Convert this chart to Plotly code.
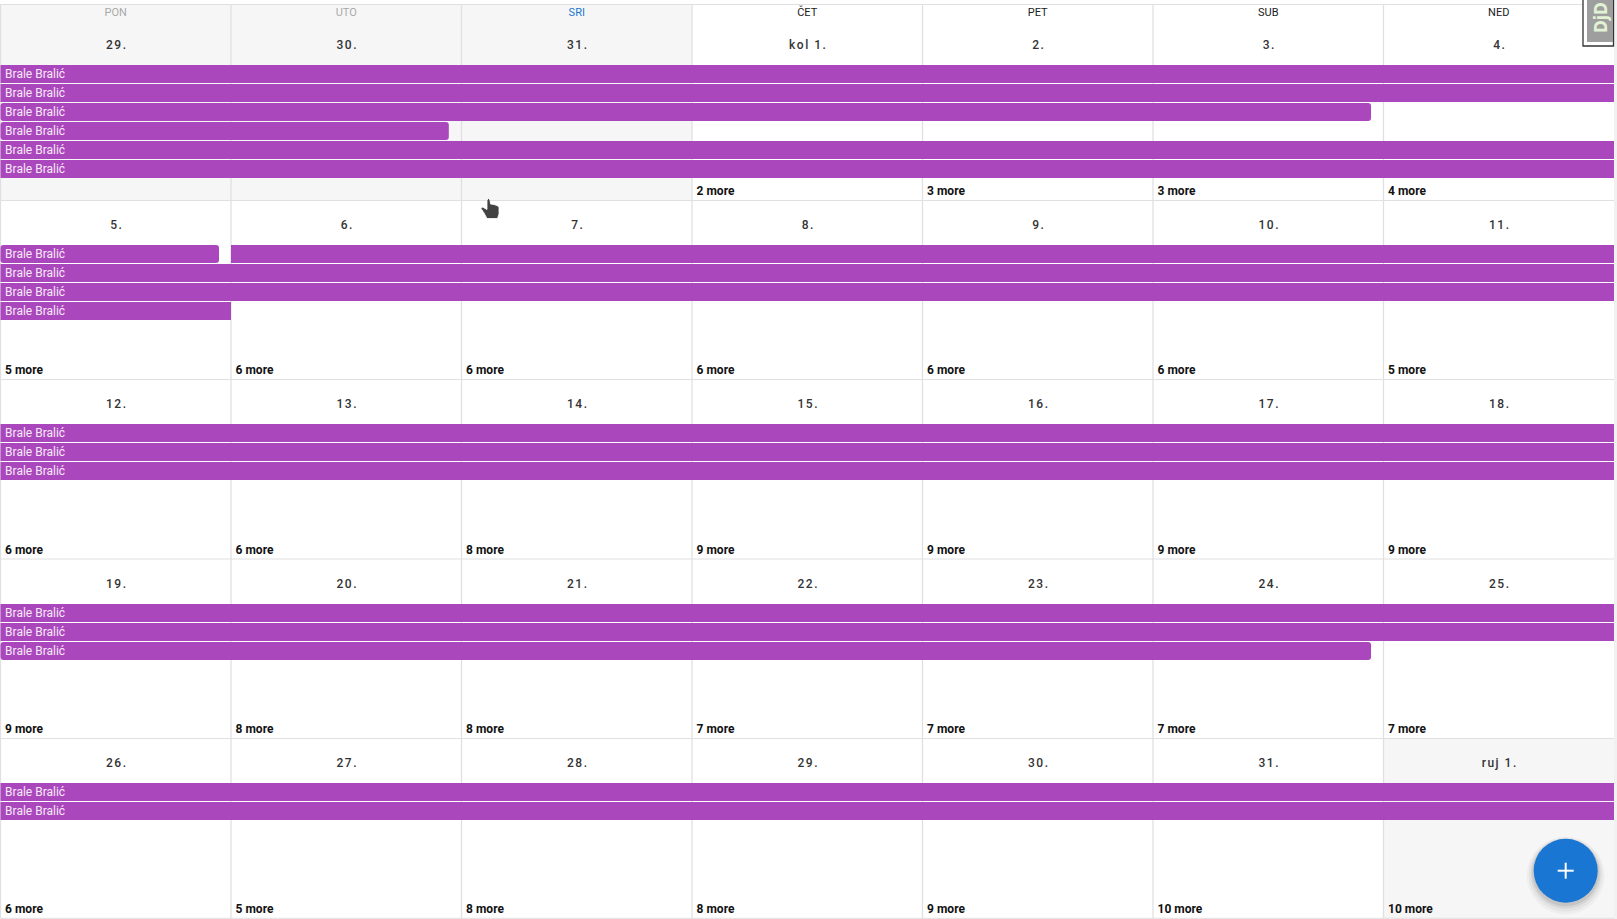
import plotly.graph_objects as go

# ---- calendar content ----
weekdays = ['PON', 'UTO', 'SRI', 'ČET', 'PET', 'SUB', 'NED']
weekday_colors = ['#a9a9a9', '#a9a9a9', '#1976d2', '#212121', '#212121', '#212121', '#212121']

day_labels = [
    ['29.', '30.', '31.', 'kol 1.', '2.', '3.', '4.'],
    ['5.', '6.', '7.', '8.', '9.', '10.', '11.'],
    ['12.', '13.', '14.', '15.', '16.', '17.', '18.'],
    ['19.', '20.', '21.', '22.', '23.', '24.', '25.'],
    ['26.', '27.', '28.', '29.', '30.', '31.', 'ruj 1.'],
]

more_counts = [
    [None, None, None, 2, 3, 3, 4],
    [5, 6, 6, 6, 6, 6, 5],
    [6, 6, 8, 9, 9, 9, 9],
    [9, 8, 8, 7, 7, 7, 7],
    [6, 5, 8, 8, 9, 10, 10],
]

# (week, day) of the greyed out cells
outside_cells = [(0, 0), (0, 1), (0, 2), (4, 6)]

# events: week, lane, first day, last day (in day columns)
event_name = 'Brale Bralić'
open_week = [0, 0, 0, 0, 1, 1, 1, 1, 2, 2, 2, 3, 3, 4, 4]
open_lane = [0, 1, 4, 5, 0, 1, 2, 3, 0, 1, 2, 0, 1, 0, 1]
open_start = [0, 0, 0, 0, 1, 0, 0, 0, 0, 0, 0, 0, 0, 0, 0]
open_end = [7, 7, 7, 7, 7, 7, 7, 1, 7, 7, 7, 7, 7, 7, 7]
open_named = [1, 1, 1, 1, 0, 1, 1, 1, 1, 1, 1, 1, 1, 1, 1]

# these ones finish inside a cell, with a rounded end
closed_week = [0, 0, 1, 3]
closed_lane = [2, 3, 0, 2]
closed_start = [0, 0, 0, 0]
closed_end = [5.946, 1.945, 0.948, 5.946]

# ---- page geometry ----
W, H = 1617, 919
COL = 230.5
LEFT = 0.5
row_lines = [4.5, 200.5, 379.5, 559, 738.5, 918.3]
lanes_top = [65, 245, 424, 604, 783]
LANE = 19
BAR = 18
PURPLE = '#ab47bc'
GRID = '#e0e0e0'
FONT = 'Roboto'
number_y = [46, 225.5, 404.5, 584.5, 763.5]
more_y_px = [191.5, 370.5, 551, 729.5, 909.5]


def dx(px):
    return (px - LEFT) / COL


def lane_y(week, lane):
    return lanes_top[week] + lane * LANE + BAR / 2


fig = go.Figure()

# ---- events ----
fig.add_trace(go.Bar(
    orientation='h',
    base=open_start,
    x=[e - s for s, e in zip(open_start, open_end)],
    y=[lane_y(w, l) for w, l in zip(open_week, open_lane)],
    width=BAR,
    marker=dict(color=PURPLE, line_width=0),
))
fig.add_trace(go.Bar(
    orientation='h',
    base=closed_start,
    x=[e - s for s, e in zip(closed_start, closed_end)],
    y=[lane_y(w, l) for w, l in zip(closed_week, closed_lane)],
    width=BAR,
    marker=dict(color=PURPLE, line_width=0, cornerradius=3),
))

# names inside the bars
label_x = []
label_y = []
for s, w, l, n in zip(open_start, open_week, open_lane, open_named):
    if n:
        label_x.append(s + dx(4.6 + LEFT))
        label_y.append(lane_y(w, l) + 0.7)
for s, w, l in zip(closed_start, closed_week, closed_lane):
    label_x.append(s + dx(4.6 + LEFT))
    label_y.append(lane_y(w, l) + 0.7)
fig.add_trace(go.Scatter(
    x=label_x, y=label_y, mode='text', text=[event_name] * len(label_x),
    textposition='middle right',
    textfont=dict(family=FONT, size=12, color='#f6e9f8'),
))

# ---- header and day numbers ----
fig.add_trace(go.Scatter(
    x=[i + 0.5 for i in range(7)], y=[13.5] * 7, mode='text', text=weekdays,
    textposition='middle center',
    textfont=dict(family=FONT, size=11, color=weekday_colors),
))
num_x, num_y, num_t = [], [], []
for w, row in enumerate(day_labels):
    for d, t in enumerate(row):
        num_x.append(d + 0.5 + dx(1 + LEFT))
        num_y.append(number_y[w])
        num_t.append(t)
fig.add_trace(go.Scatter(
    x=num_x, y=num_y, mode='text', text=num_t, textposition='middle center',
    textfont=dict(family=FONT, size=12, color='#333333', weight=500),
))

# ---- "n more" ----
more_x, more_y, more_t = [], [], []
for w, row in enumerate(more_counts):
    for d, c in enumerate(row):
        if c is not None:
            more_x.append(d + dx(4.6 + LEFT))
            more_y.append(more_y_px[w])
            more_t.append(str(c) + ' more')
fig.add_trace(go.Scatter(
    x=more_x, y=more_y, mode='text', text=more_t, textposition='middle right',
    textfont=dict(family=FONT, size=12, color='#111111', weight=700),
))

# ---- cell shading and grid ----
shapes = []
for w, d in outside_cells:
    shapes.append(dict(type='rect', layer='below', x0=d, x1=d + 1, y0=row_lines[w], y1=row_lines[w + 1],
                       fillcolor='#f6f6f6', line_width=0))
for y in row_lines:
    shapes.append(dict(type='line', layer='below', x0=dx(0), x1=dx(1614), y0=y, y1=y,
                       line=dict(color=GRID, width=1)))
for d in range(0, 7):
    shapes.append(dict(type='line', layer='below', x0=d, x1=d, y0=row_lines[0], y1=row_lines[-1],
                       line=dict(color=GRID, width=1.3)))

# scrollbar strip on the right
shapes.append(dict(type='rect', layer='below', x0=dx(1614), x1=dx(W), y0=0, y1=H, fillcolor='#f1f1f1', line_width=0))

# logo box, top right
shapes.append(dict(type='rect', layer='above', x0=dx(1583), x1=dx(1613.5), y0=-2, y1=46,
                   fillcolor='#ffffff', line=dict(color='#333333', width=1.3)))
shapes.append(dict(type='rect', layer='above', x0=dx(1587), x1=dx(1613), y0=-2, y1=42,
                   fillcolor='#9e9e9e', line_width=0))

# add button with its soft shadow
cx, cy, r = 1565.7, 870.7, 32
for grow, drop, alpha in [(7, 5, 0.03), (5, 4, 0.04), (3, 3, 0.06), (1.5, 2, 0.08)]:
    shapes.append(dict(type='circle', layer='above', x0=dx(cx - r - grow), x1=dx(cx + r + grow),
                       y0=cy + drop - r - grow, y1=cy + drop + r + grow,
                       fillcolor='rgba(0,0,0,%s)' % alpha, line_width=0))
shapes.append(dict(type='circle', layer='above', x0=dx(cx - r), x1=dx(cx + r), y0=cy - r, y1=cy + r,
                   fillcolor='#1976d2', line_width=0))
shapes.append(dict(type='line', layer='above', x0=dx(cx - 8), x1=dx(cx + 8), y0=cy, y1=cy,
                   line=dict(color='#ffffff', width=2)))
shapes.append(dict(type='line', layer='above', x0=dx(cx), x1=dx(cx), y0=cy - 8, y1=cy + 8,
                   line=dict(color='#ffffff', width=2)))

# mouse pointer
hand = [(487, 200), (488.5, 198.5), (490, 200), (490.5, 204), (494, 204.5), (497, 205.5), (499, 207),
        (499, 214), (497.5, 218.5), (487, 218.5), (484, 213), (481, 208.5), (482.5, 207), (487, 209.5)]
hand_path = 'M ' + ' L '.join('%.5f,%.1f' % (dx(x), y) for x, y in hand) + ' Z'
shapes.append(dict(type='path', layer='above', path=hand_path, fillcolor='#424242',
                   line=dict(color='#ffffff', width=0.8)))

fig.update_layout(
    width=W, height=H,
    margin=dict(l=0, r=0, t=0, b=0),
    paper_bgcolor='#ffffff', plot_bgcolor='#ffffff',
    barmode='overlay',
    showlegend=False,
    hovermode=False,
    shapes=shapes,
    xaxis=dict(range=[dx(0), dx(W)], visible=False, fixedrange=True),
    yaxis=dict(range=[H, 0], visible=False, fixedrange=True),
    annotations=[dict(
        x=dx(1600.5), y=17.5, xref='x', yref='y', text='<b>DjD</b>', textangle=-90, showarrow=False,
        font=dict(family='DejaVu Sans Condensed, DejaVu Sans', size=17, color='#e2f3d4'),
        xanchor='center', yanchor='middle',
    )],
)

# tracking on the day numbers, page margin off
post = """
document.body.style.margin = '0';
document.body.style.overflow = 'hidden';
document.querySelectorAll('.textpoint text').forEach(function (t) {
    if (/\\.$/.test(t.textContent)) { t.style.letterSpacing = '1.5px'; }
});
"""
fig.write_html("out.html", post_script=post, config=dict(displayModeBar=False))
